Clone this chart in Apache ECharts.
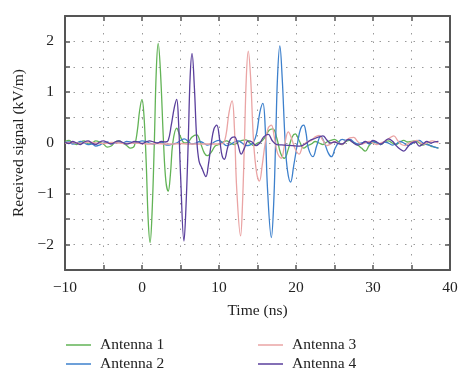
<!DOCTYPE html>
<html><head><meta charset="utf-8">
<script src="https://cdn.jsdelivr.net/npm/echarts@6/dist/echarts.min.js"></script>
<style>html,body{margin:0;padding:0;background:#fff}#c{width:474px;height:384px}</style>
</head><body><div id="c"></div>
<script>
const seriesNames = ['Antenna 1','Antenna 2','Antenna 3','Antenna 4'];
const xTicks = [-10,0,10,20,30,40];
const yTicks = [-2,-1,0,1,2];
const antenna1 = [[-10,0.03],[-9.5,0.05],[-9,0.0],[-8.5,-0.03],[-8,0.02],[-7.5,0.04],[-7,-0.02],[-6.5,0.0],[-6,0.04],[-5.5,0.02],[-5,-0.02],[-4.5,-0.08],[-4,-0.06],[-3.5,0.02],[-3,0.04],[-2.5,0.0],[-2,-0.05],[-1.5,-0.1],[-1,-0.06],[-0.6,0.25],[-0.3,0.65],[0,0.86],[0.25,0.55],[0.55,-0.4],[0.8,-1.5],[1.05,-1.96],[1.3,-1.4],[1.6,0.0],[1.85,1.4],[2.1,1.96],[2.4,1.4],[2.8,0.0],[3.1,-0.75],[3.4,-0.95],[3.7,-0.6],[4.0,0.0],[4.5,0.29],[5.0,0.12],[5.5,0.0],[6.0,0.02],[6.5,0.12],[7.1,0.16],[7.6,0.0],[8.1,-0.2],[8.5,-0.25],[9.0,-0.18],[9.5,-0.06],[10,-0.03],[10.5,0.02],[11,0.04],[11.5,0.0],[12,-0.03],[12.5,0.02],[13,0.05],[13.5,0.06],[14,0.0],[14.5,-0.05],[15,0.0],[15.5,0.03],[16,0.12],[16.5,0.25],[17,0.28],[17.5,0.1],[18,-0.2],[18.5,-0.3],[19,-0.12],[19.5,0.12],[19.9,0.18],[20.4,0.05],[21,-0.1],[21.5,-0.05],[22,-0.02],[22.5,0.03],[23,0.0],[23.5,-0.03],[24,0.02],[24.5,0.05],[25,0.07],[25.5,0.02],[26,-0.03],[26.5,0.03],[27,0.05],[27.5,0.0],[28,-0.04],[28.5,-0.1],[29,-0.16],[29.5,-0.05],[30,0.02],[30.5,0.0],[31,-0.03],[31.5,0.02],[32,0.04],[32.5,0.0],[33,-0.03],[33.5,0.02],[34,0.05],[34.5,0.02],[35,0.03],[35.5,0.04],[36,0.0],[36.5,-0.04],[37,-0.02],[37.5,-0.06],[38,-0.08],[38.5,-0.1]];
const antenna2 = [[-10,0.0],[-9.5,0.02],[-9,-0.02],[-8.5,0.0],[-8,0.03],[-7.5,0.0],[-7,-0.03],[-6.5,-0.02],[-6,-0.06],[-5.5,-0.04],[-5,0.0],[-4.5,0.02],[-4,-0.01],[-3.5,0.0],[-3,0.02],[-2.5,0.0],[-2,0.03],[-1.5,0.02],[-1,0.0],[-0.5,0.02],[0,0.04],[0.5,0.03],[1,0.0],[1.5,-0.02],[2,0.0],[2.5,0.02],[3,-0.03],[3.5,-0.04],[4,-0.02],[4.5,0.0],[5,0.05],[5.5,0.08],[6,0.03],[6.5,-0.02],[7,0.0],[7.5,0.03],[8,0.0],[8.5,-0.04],[9,-0.02],[9.5,0.03],[10,0.05],[10.5,0.0],[11,-0.05],[11.5,-0.03],[12,0.02],[12.5,0.04],[13,0.0],[13.5,-0.05],[14,-0.04],[14.5,0.02],[14.9,0.2],[15.3,0.6],[15.7,0.78],[16.0,0.3],[16.3,-0.9],[16.8,-1.86],[17.1,-1.2],[17.35,0.0],[17.6,1.3],[17.9,1.91],[18.2,1.3],[18.6,0.0],[18.9,-0.55],[19.3,-0.77],[19.7,-0.45],[20.2,0.0],[20.6,0.28],[21.0,0.35],[21.3,0.2],[21.6,-0.1],[22.2,-0.27],[22.7,-0.05],[23.2,0.13],[23.7,0.0],[24.2,-0.2],[24.6,-0.27],[25.1,-0.1],[25.6,0.03],[26,0.07],[26.5,0.05],[27,0.07],[27.5,0.02],[28,-0.02],[28.5,0.0],[29,0.02],[29.5,-0.02],[30,0.03],[30.5,0.0],[31,-0.03],[31.5,0.02],[32,0.0],[32.5,-0.04],[33,-0.02],[33.5,0.03],[34,0.0],[34.5,-0.05],[35,-0.02],[35.5,0.03],[36,0.05],[36.5,0.0],[37,-0.03],[37.5,-0.05],[38,-0.08],[38.5,-0.1]];
const antenna3 = [[-10,0.0],[-9,0.01],[-8,-0.01],[-7,0.02],[-6,0.0],[-5,-0.01],[-4,0.01],[-3,0.0],[-2,-0.01],[-1,0.0],[0,-0.01],[1,-0.02],[2,-0.01],[3,-0.02],[4,-0.02],[5,-0.01],[6,-0.02],[7,-0.02],[8,-0.02],[9,-0.02],[10,-0.02],[10.5,-0.01],[10.9,0.15],[11.3,0.6],[11.7,0.83],[12.0,0.3],[12.3,-0.9],[12.8,-1.83],[13.05,-1.2],[13.3,0.0],[13.55,1.3],[13.8,1.81],[14.1,1.3],[14.5,0.0],[14.9,-0.6],[15.25,-0.75],[15.6,-0.45],[16.0,0.0],[16.4,0.3],[16.8,0.35],[17.2,0.1],[17.6,-0.2],[18.1,-0.3],[18.5,-0.05],[19.0,0.22],[19.4,0.1],[19.9,-0.12],[20.4,-0.22],[20.9,-0.05],[21.4,0.02],[22,0.05],[22.5,0.12],[23,0.15],[23.5,0.05],[24,-0.05],[24.5,-0.02],[25,0.03],[25.5,0.0],[26,-0.03],[26.5,0.05],[27,0.1],[27.5,0.11],[28,0.03],[28.5,-0.02],[29,0.0],[29.5,0.03],[30,0.0],[30.5,-0.03],[31,0.0],[31.5,0.03],[32,0.08],[32.7,0.14],[33.2,0.05],[33.7,-0.03],[34.2,-0.05],[34.7,0.0],[35.2,0.03],[35.7,0.05],[36.2,0.0],[36.7,-0.02],[37.2,0.02],[37.7,0.04],[38.5,0.0]];
const antenna4 = [[-10,0.02],[-9.5,-0.01],[-9,0.03],[-8.5,0.0],[-8,-0.03],[-7.5,0.02],[-7,0.04],[-6.5,0.0],[-6,-0.03],[-5.5,0.02],[-5,0.04],[-4.5,0.01],[-4,-0.02],[-3.5,0.02],[-3,0.04],[-2.5,0.01],[-2,-0.02],[-1.5,0.0],[-1,0.03],[-0.5,0.02],[0,-0.01],[0.5,0.02],[1,0.04],[1.5,0.02],[2,0.0],[2.5,0.03],[3,0.02],[3.4,0.05],[3.8,0.35],[4.2,0.7],[4.5,0.86],[4.75,0.4],[5.0,-0.6],[5.45,-1.93],[5.7,-1.3],[6.0,0.0],[6.25,1.3],[6.5,1.76],[6.8,1.1],[7.1,0.1],[7.4,-0.35],[7.8,-0.5],[8.3,-0.66],[8.6,-0.45],[9.0,0.0],[9.35,0.28],[9.7,0.35],[10.1,0.05],[10.4,-0.25],[10.7,-0.32],[11.1,-0.1],[11.5,0.08],[12.0,0.12],[12.4,0.0],[12.9,-0.22],[13.3,-0.1],[13.8,0.04],[14.3,0.02],[14.8,-0.05],[15.3,0.0],[15.8,0.12],[16.4,0.17],[16.9,0.05],[17.5,-0.03],[18.5,-0.04],[19.5,-0.05],[20.5,-0.06],[21.2,-0.02],[21.8,0.05],[22.3,0.08],[23,0.12],[23.5,0.14],[24,0.06],[24.5,0.0],[25,0.02],[25.5,-0.01],[26,-0.02],[26.8,0.07],[27.3,0.02],[28,-0.04],[28.5,-0.02],[29,0.03],[29.5,0.0],[30,0.05],[30.5,0.02],[31,-0.02],[31.5,0.03],[32,0.08],[32.5,0.04],[33,-0.05],[33.5,-0.12],[34,-0.16],[34.5,-0.08],[35,0.0],[35.5,0.02],[36,-0.06],[36.5,-0.02],[37,0.03],[37.5,0.0],[38,0.02],[38.5,0.03]];
const colors = ['#62b356','#3d80cc','#eaa4a4','#5a3f9c'];
const seriesData = [antenna1, antenna2, antenna3, antenna4];

const FONT = '"Liberation Serif", "DejaVu Serif", serif';
const axisColor = '#555';
const fmtNum = v => String(v).replace('-', '\u2212');

const chart = echarts.init(document.getElementById('c'), null, {renderer:'canvas'});
const gridSplit = {show:true, lineStyle:{color:'#9a9a9a', type:[1.5,7], width:1}};
const legendPos = [[66,337],[66,356],[258,337],[258,356]];
chart.setOption({
  animation:false,
  backgroundColor:'#fff',
  color: colors,
  grid:{left:65, right:24, top:16, bottom:114, containLabel:false},
  xAxis:[{
    type:'value', min:-10, max:40, interval:5, position:'bottom',
    name:'Time (ns)', nameLocation:'middle', nameGap:33,
    nameTextStyle:{fontFamily:FONT, fontSize:15.5, color:'#222'},
    axisLine:{show:true, onZero:false, lineStyle:{color:axisColor, width:2}},
    axisTick:{show:true, inside:true, length:5, lineStyle:{color:axisColor, width:1.5}},
    axisLabel:{fontFamily:FONT, fontSize:15.5, color:'#222', margin:10,
      formatter: v => xTicks.includes(v) ? fmtNum(v) : ''},
    splitLine:gridSplit
  },{
    type:'value', min:-10, max:40, interval:5, position:'top',
    axisLine:{show:true, onZero:false, lineStyle:{color:axisColor, width:2}},
    axisTick:{show:true, inside:true, length:5, lineStyle:{color:axisColor, width:1.5}},
    axisLabel:{show:false}, splitLine:{show:false}
  }],
  yAxis:[{
    type:'value', min:-2.5, max:2.5, interval:0.5, position:'left',
    name:'Received signal (kV/m)', nameLocation:'middle', nameGap:38,
    nameTextStyle:{fontFamily:FONT, fontSize:15.5, color:'#222'},
    axisLine:{show:true, onZero:false, lineStyle:{color:axisColor, width:2}},
    axisTick:{show:true, inside:true, length:5, lineStyle:{color:axisColor, width:1.5}},
    axisLabel:{fontFamily:FONT, fontSize:15.5, color:'#222', margin:11,
      formatter: v => yTicks.includes(v) ? fmtNum(v) : ''},
    splitLine:gridSplit
  },{
    type:'value', min:-2.5, max:2.5, interval:0.5, position:'right',
    axisLine:{show:true, onZero:false, lineStyle:{color:axisColor, width:2}},
    axisTick:{show:true, inside:true, length:5, lineStyle:{color:axisColor, width:1.5}},
    axisLabel:{show:false}, splitLine:{show:false}
  }],
  legend: seriesNames.map((n,i) => ({
    data:[n], left:legendPos[i][0], top:legendPos[i][1], padding:0,
    icon:'rect', itemWidth:25, itemHeight:1.5, itemGap:0,
    textStyle:{fontFamily:FONT, fontSize:15.5, color:'#222', padding:[0,0,0,4]}
  })),
  series: seriesNames.map((n,i) => ({
    name:n, type:'line', data:seriesData[i], showSymbol:false, symbol:'none',
    smooth:0.4, lineStyle:{width:1.3, color:colors[i]}, itemStyle:{color:colors[i]},
    xAxisIndex:0, yAxisIndex:0
  }))
});
</script></body></html>
